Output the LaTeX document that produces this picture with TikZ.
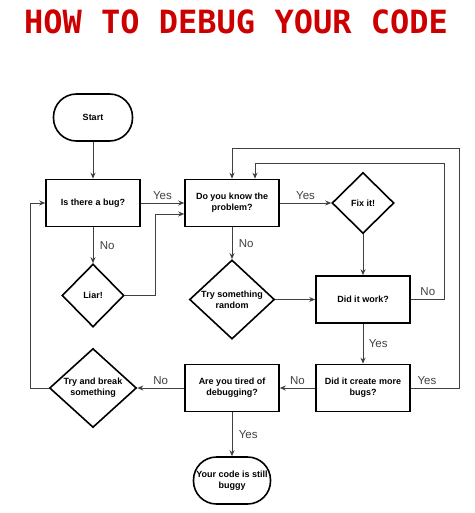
\documentclass[tikz,border=0pt]{standalone}
\usepackage{fontspec}
\setmainfont{Liberation Sans}
\newfontfamily\titlefont{DejaVu Sans Mono}
\usetikzlibrary{shapes.geometric,arrows.meta}
\definecolor{titlered}{RGB}{204,0,0}
\begin{document}
\begin{tikzpicture}[x=1pt, y=-1pt, >={Stealth[length=6pt,width=5pt]},
    box/.style={rectangle, draw, line width=1.6pt, minimum width=94pt,
                minimum height=47pt, align=center,
                font=\bfseries\fontsize{9}{11}\selectfont},
    ends/.style={rectangle, rounded corners=23pt, draw, line width=1.6pt,
                 minimum height=47pt, inner sep=0pt, align=center,
                 font=\bfseries\fontsize{9}{11}\selectfont},
    decision/.style={diamond, draw, line width=1.6pt, inner sep=0pt,
                     align=center, font=\bfseries\fontsize{9}{11}\selectfont},
    link/.style={->, draw=black!75, line width=0.9pt},
    lbl/.style={font=\fontsize{11.5}{13}\selectfont, text=black!75}]
  \useasboundingbox (0,0) rectangle (474,513);
  \node[text=titlered, font=\titlefont\bfseries\fontsize{32}{36}\selectfont] (title) at (236,22) {HOW TO DEBUG YOUR CODE};
  \node[ends, minimum width=79pt] (start) at (93,117.5) {Start};
  \node[box, below of=start, node distance=85.5pt] (bug) {Is there a bug?};
  \node[box, right of=bug, node distance=139pt] (know) {Do you know the\\problem?};
  \node[decision, right of=know, node distance=131pt, minimum width=62pt, minimum height=61pt] (fix) {Fix it!};
  \node[decision, below of=bug, node distance=92.5pt, minimum width=62pt, minimum height=63pt] (liar) {Liar!};
  \node[decision, below of=know, node distance=96.5pt, minimum width=85pt, minimum height=77pt] (try) {Try something\\random};
  \node[box, below of=fix, node distance=96.5pt] (work) {Did it work?};
  \node[box, below of=work, node distance=88.5pt] (more) {Did it create more\\bugs?};
  \node[box, below of=try, node distance=88.5pt] (tired) {Are you tired of\\debugging?};
  \node[decision, below of=liar, node distance=92.5pt, minimum width=87pt, minimum height=79pt] (brk) {Try and break\\something};
  \node[ends, below of=tired, node distance=92.5pt, minimum width=77pt] (still) {Your code is still\\buggy};
  \draw[link] (start) -- (bug);
  \draw[link] (bug) -- node[above, lbl]{Yes} (know);
  \draw[link] (bug) -- node[right, lbl, xshift=3pt]{No} (liar);
  \draw[link] (liar.east) -- ++(31,0) |- ([yshift=-11pt]know.west);
  \draw[link] (know) -- node[above, lbl]{Yes} (fix);
  \draw[link] (know) -- node[right, lbl, xshift=3pt]{No} (try);
  \draw[link] (fix) -- (work);
  \draw[link] (try) -- (work);
  \draw[link] (work.east) -- node[above, lbl]{No} ++(34,0) |- ([xshift=23pt, yshift=15pt]know.north) -- ([xshift=23pt]know.north);
  \draw[link] (work) -- node[right, lbl, xshift=2pt]{Yes} (more);
  \draw[link] (more.east) -- node[above, lbl, pos=0.33]{Yes} ++(49,0) |- ([yshift=30pt]know.north) -- (know.north);
  \draw[link] (more) -- node[above, lbl]{No} (tired);
  \draw[link] (tired) -- node[above, lbl]{No} (brk);
  \draw[link] (tired) -- node[right, lbl, xshift=3pt]{Yes} (still);
  \draw[link] (brk.west) -- ++(-18,0) |- (bug.west);
\end{tikzpicture}
\end{document}
